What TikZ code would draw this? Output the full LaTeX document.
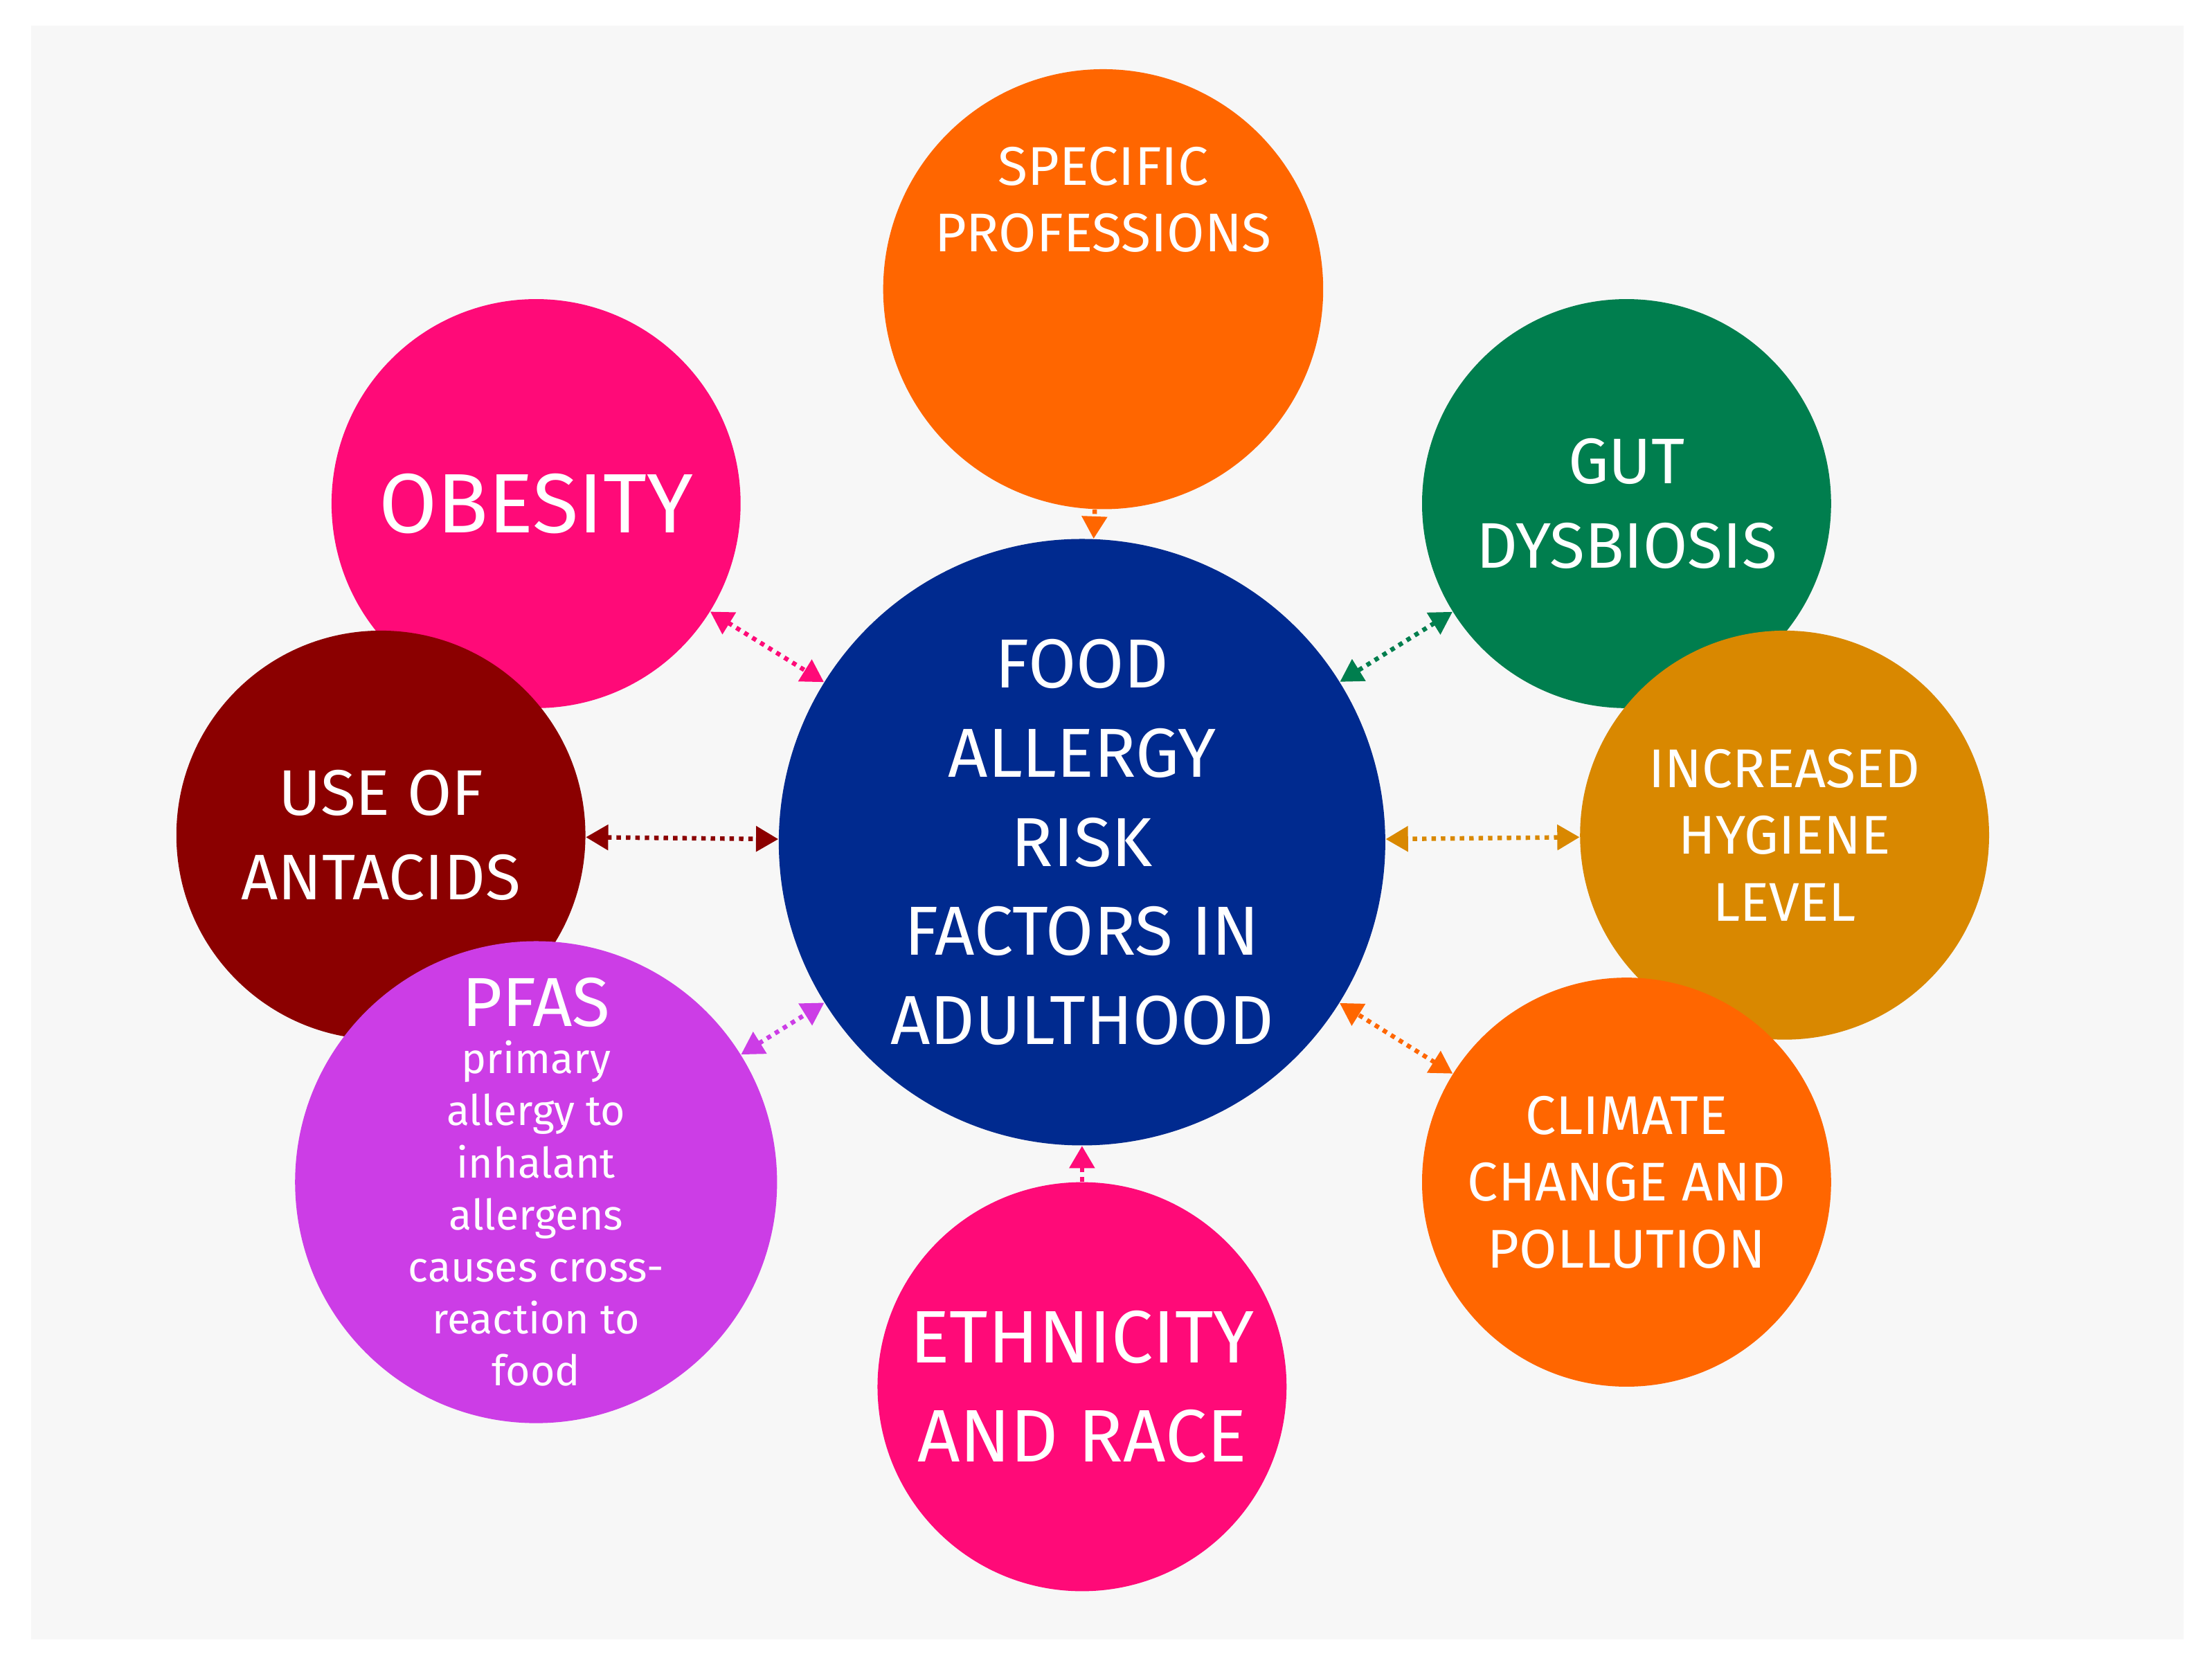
\documentclass[tikz,border=0pt]{standalone}
\usepackage{fontspec}
\setmainfont{Fira Sans}
\usetikzlibrary{arrows.meta}
\definecolor{bgc}{HTML}{F7F7F7}
\definecolor{cblue}{HTML}{002A8F}
\definecolor{corange}{HTML}{FF6600}
\definecolor{cpink}{HTML}{FF0A78}
\definecolor{cgreen}{HTML}{007E4E}
\definecolor{cred}{HTML}{8B0000}
\definecolor{camber}{HTML}{D98800}
\definecolor{cpurple}{HTML}{CC3DE6}
\tikzset{
 circ/.style={circle,minimum size=5.8cm,inner sep=0pt,text=white,align=center,font=\fontsize{22}{27}\selectfont},
 link/.style={draw=#1,line width=1.8pt,dotted,-{Triangle[length=9pt,width=10pt,fill=#1]}},
 dlink/.style={draw=#1,line width=1.8pt,dotted,{Triangle[length=9pt,width=10pt,fill=#1]}-{Triangle[length=9pt,width=10pt,fill=#1]}}
}
\begin{document}
\begin{tikzpicture}[x=0.02cm,y=-0.02cm]
\useasboundingbox (0,0) rectangle (1568,1180);
\fill[white] (0,0) rectangle (1568,1180);
\fill[bgc] (22,18) rectangle (1548,1162);
\node[circ,fill=corange] (prof) at (782,205) {SPECIFIC\\PROFESSIONS\\[1.6cm]};
\node[circ,fill=cpink,font=\fontsize{34}{40}\selectfont] (obes) at (380,357) {OBESITY};
\node[circ,fill=cgreen,font=\fontsize{26}{34}\selectfont] (gut) at (1153,357) {GUT\\DYSBIOSIS};
\node[circ,fill=cred,font=\fontsize{26}{34}\selectfont] (anta) at (270,592) {USE OF\\ANTACIDS};
\node[circ,fill=camber] (hyg) at (1265,592) {INCREASED\\HYGIENE\\LEVEL};
\node[circ,fill=cpurple,font=\fontsize{17}{21}\selectfont] (pfas) at (380,838) {\fontsize{28}{30}\selectfont PFAS\\[-2pt]\fontsize{17}{21}\selectfont primary\\allergy to\\inhalant\\allergens\\causes cross-\\reaction to\\food};
\node[circ,fill=corange] (clim) at (1153,838) {CLIMATE\\CHANGE AND\\POLLUTION};
\node[circ,fill=cpink,font=\fontsize{30}{40}\selectfont] (eth) at (767,983) {ETHNICITY\\AND RACE};
\node[circ,fill=cblue,minimum size=8.6cm,font=\fontsize{28}{36}\selectfont] (ctr) at (767,597) {FOOD\\ALLERGY\\RISK\\FACTORS IN\\ADULTHOOD};
\draw[link=corange] (prof) -- (ctr);
\draw[link=cpink] (eth) -- (ctr);
\draw[dlink=cpink] (obes) -- (ctr);
\draw[dlink=cgreen] (gut) -- (ctr);
\draw[dlink=cred] (anta) -- (ctr);
\draw[dlink=camber] (hyg) -- (ctr);
\draw[dlink=cpurple] (pfas) -- (ctr);
\draw[dlink=corange] (clim) -- (ctr);
\end{tikzpicture}
\end{document}
